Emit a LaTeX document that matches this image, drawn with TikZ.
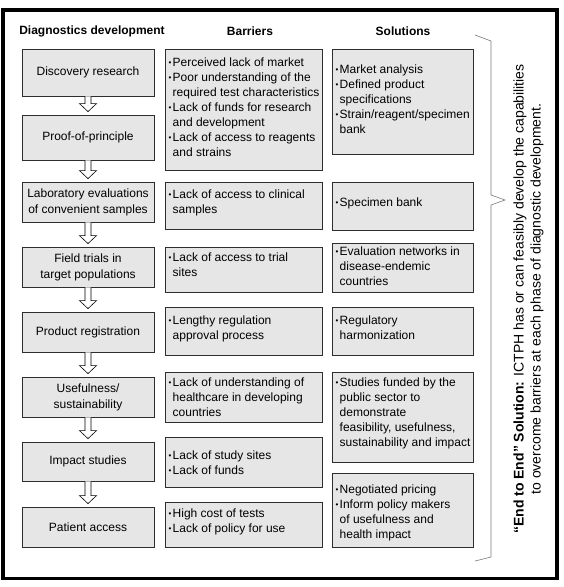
\documentclass[tikz,border=0pt]{standalone}
\usepackage{fontspec}
\setmainfont{Liberation Sans}
\usetikzlibrary{calc}
\definecolor{boxgray}{HTML}{E6E6E6}
\definecolor{bordergray}{HTML}{2E2E2E}
\definecolor{bracegray}{HTML}{7A7A7A}
\newcommand\bul{\makebox[4pt][l]{\fontsize{8}{8}\selectfont\raisebox{0.8pt}{•}}}
\newcommand\ind{\hspace*{4pt}}
\tikzset{
  gbox/.style={draw=bordergray, fill=boxgray, line width=0.8pt, inner sep=0pt},
  dbox/.style={gbox, align=center, font=\fontsize{12}{16}\selectfont},
  btext/.style={inner sep=0pt, align=left, font=\fontsize{12}{15}\selectfont},
  hdr/.style={inner sep=0pt, font=\bfseries\fontsize{12}{14}\selectfont},
  harr/.style={draw=black, fill=white, line width=0.6pt, line join=miter},
  bracel/.style={draw=bracegray, line width=0.6pt},
  rot/.style={rotate=90, align=center, inner sep=0pt, font=\fontsize{14}{17}\selectfont}
}
% #1 name, #2 x1, #3 y1, #4 x2, #5 y2, #6 text offset, #7 text
\newcommand\tbox[7]{%
  \node[gbox, anchor=north west, minimum width=#4-#2, minimum height=#5-#3] (#1) at (#2,#3) {};
  \node[btext, anchor=north west] (#1t) at ($(#1.north west)+(3.5,#6)$) {\strut#7};}
\newcommand\harrow[2]{%
  \draw[harr] ($(#1.south)+(-3,0)$) -- ($(#2.north)+(-3,-11)$) -- ($(#2.north)+(-8.5,-11)$)
    -- ($(#2.north)+(0,-3)$) -- ($(#2.north)+(8.5,-11)$) -- ($(#2.north)+(3,-11)$)
    -- ($(#1.south)+(3,0)$);}
\begin{document}
\begin{tikzpicture}[x=1pt,y=-1pt]
\useasboundingbox (0,0) rectangle (564,587);
\fill[white] (0,0) rectangle (564,587);
\draw[line width=3.2pt] (3,10) rectangle (557,578.5);
% headers
\node[hdr] (h1) at (92,31) {Diagnostics development};
\node[hdr] (h2) at (250,31) {Barriers};
\node[hdr] (h3) at (403,31) {Solutions};
% development column
\node[dbox, minimum width=132, minimum height=47] (d1) at (88,72.5) {Discovery research};
\node[dbox, minimum width=132, minimum height=45] (d2) at (88,137.5) {Proof-of-principle};
\node[dbox, minimum width=132, minimum height=40] (d3) at (88,202) {Laboratory evaluations\\of convenient samples};
\node[dbox, minimum width=132, minimum height=40] (d4) at (88,267) {Field trials in\\target populations};
\node[dbox, minimum width=132, minimum height=40] (d5) at (88,332) {Product registration};
\node[dbox, minimum width=132, minimum height=40] (d6) at (88,397) {Usefulness/\\sustainability};
\node[dbox, minimum width=132, minimum height=39] (d7) at (88,461.5) {Impact studies};
\node[dbox, minimum width=132, minimum height=40] (d8) at (88,527) {Patient access};
\harrow{d1}{d2}
\harrow{d2}{d3}
\harrow{d3}{d4}
\harrow{d4}{d5}
\harrow{d5}{d6}
\harrow{d6}{d7}
\harrow{d7}{d8}
% barriers
\tbox{b1}{165}{49}{322}{170}{7}{\bul Perceived lack of market\\\bul Poor understanding of the\\\ind required test characteristics\\\bul Lack of funds for research\\\ind and development\\\bul Lack of access to reagents\\\ind and strains}
\tbox{b2}{165}{182}{322}{229}{6}{\bul Lack of access to clinical\\\ind samples}
\tbox{b3}{165}{247}{322}{292}{4}{\bul Lack of access to trial\\\ind sites}
\tbox{b4}{165}{307}{322}{355}{7}{\bul Lengthy regulation\\\ind approval process}
\tbox{b5}{165}{372}{322}{422}{4}{\bul Lack of understanding of\\\ind healthcare in developing\\\ind countries}
\tbox{b6}{165}{437}{322}{487}{12}{\bul Lack of study sites\\\bul Lack of funds}
\tbox{b7}{165}{502}{322}{547}{5}{\bul High cost of tests\\\bul Lack of policy for use}
% solutions
\tbox{s1}{332}{49}{473}{154}{14}{\bul Market analysis\\\bul Defined product\\\ind specifications\\\bul Strain/reagent/specimen\\\ind bank}
\tbox{s2}{332}{182}{473}{230}{14}{\bul Specimen bank}
\tbox{s3}{332}{243}{473}{292}{2}{\bul Evaluation networks in\\\ind disease-endemic\\\ind countries}
\tbox{s4}{332}{307}{473}{355}{7}{\bul Regulatory\\\ind harmonization}
\tbox{s5}{332}{372}{473}{462}{4}{\bul Studies funded by the\\\ind public sector to\\\ind demonstrate\\\ind feasibility, usefulness,\\\ind sustainability and impact}
\tbox{s6}{332}{473}{473}{547}{10}{\bul Negotiated pricing\\\bul Inform policy makers\\\ind of usefulness and\\\ind health impact}
% brace
\draw[bracel] (475,35) -- (491,41) -- (491,195) -- (505,200) -- (491,205) -- (491,557) -- (475,561);
% side note
\node[rot] (note) at (528.5,299) {{\bfseries “End to End” Solution:} ICTPH has or can feasibly develop the capabilities\\to overcome barriers at each phase of diagnostic development.};
\end{tikzpicture}
\end{document}
